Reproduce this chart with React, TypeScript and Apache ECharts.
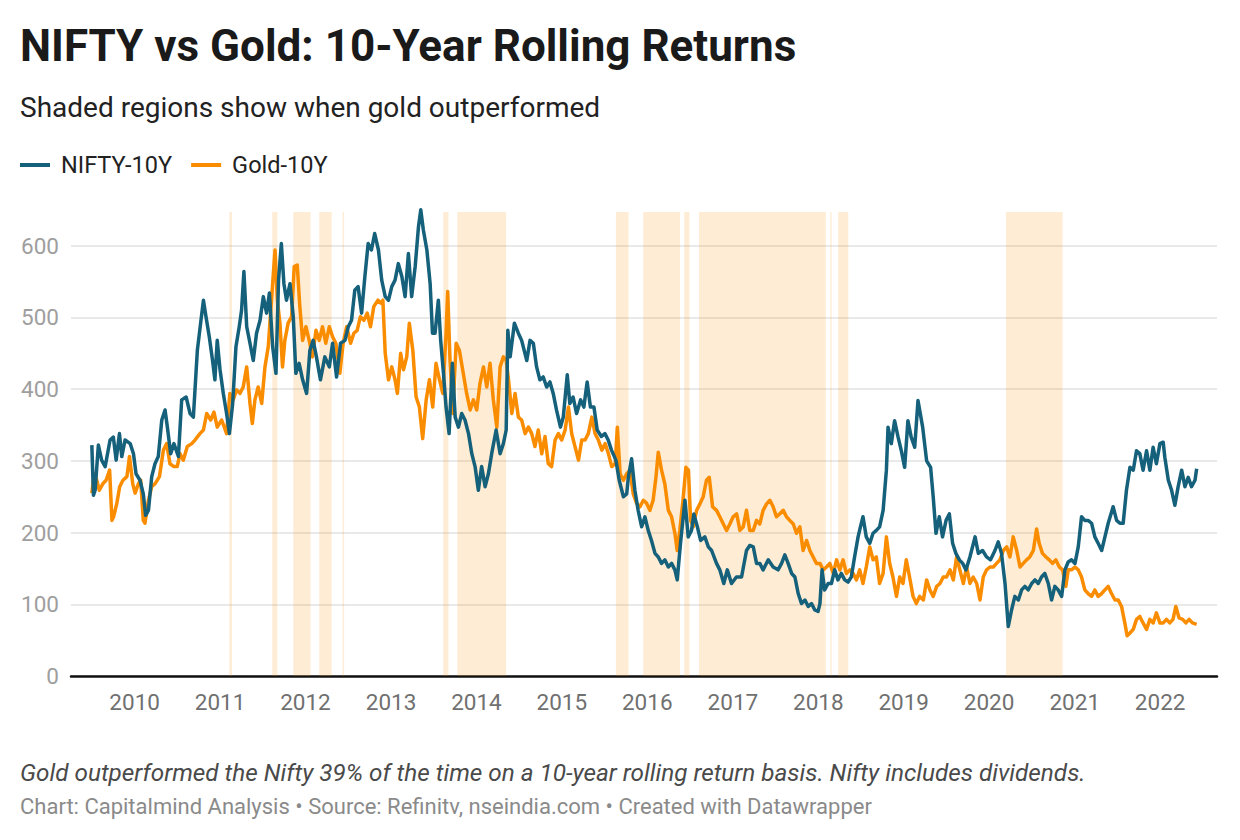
import React, { useEffect, useRef } from "react";
import * as echarts from "echarts";

// ---- Data ----
const niftyDates = [
  "2009-07-02","2009-07-09","2009-07-16","2009-07-30","2009-08-13","2009-08-28","2009-09-18","2009-10-02","2009-10-14","2009-10-28",
  "2009-11-07","2009-11-21","2009-12-13","2009-12-27","2010-01-07","2010-01-24","2010-02-07","2010-02-17","2010-03-01","2010-03-15",
  "2010-03-29","2010-04-12","2010-04-27","2010-05-11","2010-05-21","2010-06-04","2010-06-18","2010-07-07","2010-07-21","2010-08-09",
  "2010-08-26","2010-09-09","2010-09-26","2010-10-10","2010-10-22","2010-11-02","2010-11-16","2010-11-30","2010-12-10","2010-12-20",
  "2011-01-01","2011-01-15","2011-01-29","2011-02-10","2011-02-24","2011-03-10","2011-03-24","2011-04-03","2011-04-13","2011-04-25",
  "2011-05-09","2011-05-23","2011-06-06","2011-06-21","2011-07-05","2011-07-19","2011-07-31","2011-08-14","2011-08-28","2011-09-08",
  "2011-09-20","2011-10-01","2011-10-12","2011-10-27","2011-11-10","2011-11-21","2011-12-05","2011-12-20","2012-01-06","2012-01-20",
  "2012-02-03","2012-02-17","2012-03-05","2012-03-24","2012-04-12","2012-04-26","2012-05-13","2012-05-30","2012-06-18","2012-07-02",
  "2012-07-16","2012-07-30","2012-08-13","2012-08-28","2012-09-11","2012-09-25","2012-10-09","2012-10-23","2012-11-08","2012-11-22",
  "2012-12-07","2012-12-21","2013-01-04","2013-01-18","2013-02-01","2013-02-16","2013-03-02","2013-03-16","2013-03-30","2013-04-14",
  "2013-04-28","2013-05-08","2013-05-19","2013-06-03","2013-06-17","2013-06-27","2013-07-08","2013-07-22","2013-08-01","2013-08-13",
  "2013-08-24","2013-09-06","2013-09-20","2013-10-02","2013-10-16","2013-10-30","2013-11-13","2013-11-28","2013-12-12","2013-12-26",
  "2014-01-09","2014-01-23","2014-02-07","2014-02-21","2014-03-07","2014-03-26","2014-04-12","2014-04-26","2014-05-08","2014-05-15",
  "2014-05-25","2014-06-12","2014-06-29","2014-07-13","2014-08-04","2014-08-18","2014-09-01","2014-09-15","2014-09-29","2014-10-13",
  "2014-10-28","2014-11-11","2014-11-25","2014-12-09","2014-12-26","2015-01-07","2015-01-24","2015-02-04","2015-02-18","2015-03-05",
  "2015-03-22","2015-04-05","2015-04-19","2015-05-03","2015-05-18","2015-06-01","2015-06-19","2015-07-04","2015-07-18","2015-08-01",
  "2015-08-20","2015-09-03","2015-09-21","2015-10-05","2015-10-12","2015-10-26","2015-11-09","2015-11-23","2015-12-08","2015-12-22",
  "2016-01-05","2016-01-19","2016-02-03","2016-02-17","2016-03-02","2016-03-16","2016-03-31","2016-04-14","2016-04-28","2016-05-08",
  "2016-05-22","2016-06-10","2016-06-24","2016-07-08","2016-07-18","2016-08-02","2016-08-16","2016-09-03","2016-09-18","2016-10-02",
  "2016-10-23","2016-11-06","2016-11-23","2016-12-08","2016-12-26","2017-01-16","2017-02-07","2017-02-28","2017-03-14","2017-03-29",
  "2017-04-12","2017-04-26","2017-05-10","2017-06-01","2017-06-22","2017-07-13","2017-07-28","2017-08-11","2017-08-25","2017-09-09",
  "2017-09-23","2017-10-07","2017-10-21","2017-11-05","2017-11-19","2017-12-03","2017-12-17","2017-12-31","2018-01-08","2018-01-17",
  "2018-01-28","2018-02-12","2018-02-26","2018-03-12","2018-03-26","2018-04-09","2018-04-24","2018-05-08","2018-05-22","2018-06-05",
  "2018-06-20","2018-06-30","2018-07-11","2018-07-25","2018-08-09","2018-08-23","2018-09-06","2018-09-20","2018-10-05","2018-10-19",
  "2018-10-26","2018-11-09","2018-11-23","2018-12-08","2018-12-22","2019-01-05","2019-01-19","2019-02-02","2019-02-17","2019-03-03",
  "2019-03-23","2019-04-09","2019-04-26","2019-05-07","2019-05-19","2019-06-02","2019-06-16","2019-07-01","2019-07-15","2019-07-29",
  "2019-08-12","2019-08-27","2019-09-10","2019-09-24","2019-10-11","2019-11-02","2019-11-16","2019-12-04","2019-12-21","2020-01-07",
  "2020-01-26","2020-02-09","2020-02-23","2020-03-09","2020-03-23","2020-04-06","2020-04-20","2020-05-05","2020-05-19","2020-06-02",
  "2020-06-16","2020-07-01","2020-07-15","2020-07-29","2020-08-12","2020-08-26","2020-09-10","2020-09-24","2020-10-08","2020-10-22",
  "2020-11-06","2020-11-20","2020-12-04","2020-12-18","2021-01-02","2021-01-16","2021-01-30","2021-02-13","2021-02-27","2021-03-14",
  "2021-03-28","2021-04-11","2021-04-26","2021-05-10","2021-05-24","2021-06-14","2021-06-29","2021-07-13","2021-07-27","2021-08-10",
  "2021-08-25","2021-09-08","2021-09-22","2021-10-06","2021-10-20","2021-11-04","2021-11-18","2021-12-02","2021-12-16","2021-12-31",
  "2022-01-14","2022-01-21","2022-02-05","2022-02-19","2022-03-05","2022-03-19","2022-04-03","2022-04-17","2022-05-01","2022-05-15",
  "2022-05-30","2022-06-06"
];
const niftyValues = [
  322,252,259,322,301,292,329,333,301,338,
  306,329,324,310,282,273,254,224,231,278,
  296,306,357,371,347,310,324,306,385,389,
  366,361,454,492,524,501,473,440,413,468,
  427,394,366,338,380,459,487,510,564,487,
  464,440,478,496,529,506,534,459,422,552,
  603,547,524,547,501,422,436,413,394,454,
  468,445,413,445,431,464,417,464,468,487,
  496,538,543,506,557,603,594,617,594,552,
  529,524,543,552,575,557,529,589,529,571,
  626,650,622,594,547,478,478,524,468,422,
  375,338,436,361,347,366,357,338,310,292,
  259,292,264,282,310,343,310,324,343,482,
  445,492,478,468,440,468,464,431,413,417,
  403,410,394,371,347,361,420,380,389,366,
  385,375,410,375,375,343,334,338,329,315,
  301,273,250,254,277,303,259,231,208,222,
  203,189,171,166,157,162,152,157,148,134,
  185,245,194,203,226,208,189,194,180,175,
  157,148,129,148,129,138,138,175,182,180,
  157,157,148,162,152,148,157,169,157,143,
  138,115,101,106,97,101,92,90,101,148,
  120,129,129,148,134,143,134,131,138,166,
  194,208,222,194,185,199,203,208,231,287,
  347,324,356,333,314,291,356,333,319,384,
  347,300,291,250,199,222,194,217,226,185,
  171,162,157,148,166,194,171,175,166,162,
  175,187,171,129,69,92,111,106,120,125,
  120,129,134,129,138,143,129,106,125,120,
  111,148,159,162,157,180,222,217,217,213,
  194,185,175,194,213,236,217,213,213,259,
  291,287,314,310,287,314,287,319,296,324,
  326,305,273,259,238,264,287,264,277,264,
  273,289
];

const goldDates = [
  "2009-07-02","2009-07-12","2009-07-23","2009-08-03","2009-08-18","2009-09-01","2009-09-16","2009-09-26","2009-10-03","2009-10-17",
  "2009-10-29","2009-11-12","2009-11-29","2009-12-10","2009-12-24","2010-01-03","2010-01-17","2010-01-27","2010-02-07","2010-02-14",
  "2010-03-01","2010-03-15","2010-03-29","2010-04-17","2010-05-04","2010-05-18","2010-06-01","2010-06-18","2010-07-02","2010-07-14",
  "2010-07-28","2010-08-14","2010-09-02","2010-09-16","2010-10-07","2010-10-22","2010-11-05","2010-11-22","2010-12-06","2010-12-20",
  "2011-01-08","2011-01-29","2011-02-12","2011-02-26","2011-03-13","2011-03-27","2011-04-10","2011-04-25","2011-05-09","2011-05-19",
  "2011-05-30","2011-06-13","2011-06-28","2011-07-12","2011-07-26","2011-08-10","2011-08-24","2011-09-03","2011-09-14","2011-09-25",
  "2011-10-05","2011-10-19","2011-11-03","2011-11-14","2011-11-27","2011-12-08","2011-12-20","2012-01-03","2012-01-17","2012-01-31",
  "2012-02-15","2012-02-29","2012-03-14","2012-03-28","2012-04-12","2012-04-26","2012-05-10","2012-05-27","2012-06-10","2012-06-25",
  "2012-07-12","2012-07-26","2012-08-09","2012-08-23","2012-09-07","2012-09-21","2012-10-05","2012-10-19","2012-11-06","2012-11-18",
  "2012-11-27","2012-12-07","2012-12-21","2013-01-04","2013-01-18","2013-01-28","2013-02-11","2013-02-23","2013-03-09","2013-03-20",
  "2013-04-04","2013-04-18","2013-05-02","2013-05-16","2013-05-31","2013-06-14","2013-06-28","2013-07-12","2013-07-27","2013-08-10",
  "2013-08-24","2013-08-31","2013-09-10","2013-09-22","2013-10-06","2013-10-20","2013-11-03","2013-11-20","2013-12-05","2013-12-19",
  "2014-01-02","2014-01-16","2014-01-31","2014-02-14","2014-02-28","2014-03-14","2014-03-29","2014-04-12","2014-04-26","2014-05-08",
  "2014-05-18","2014-06-01","2014-06-15","2014-06-29","2014-07-13","2014-07-28","2014-08-11","2014-08-25","2014-09-08","2014-09-22",
  "2014-10-07","2014-10-21","2014-11-04","2014-11-18","2014-12-03","2014-12-17","2014-12-31","2015-01-15","2015-01-29","2015-02-12",
  "2015-02-26","2015-03-13","2015-03-27","2015-04-10","2015-04-24","2015-05-09","2015-05-23","2015-06-06","2015-06-21","2015-07-05",
  "2015-07-19","2015-08-02","2015-08-17","2015-08-26","2015-09-07","2015-09-21","2015-10-05","2015-10-19","2015-11-02","2015-11-16",
  "2015-12-01","2015-12-15","2015-12-29","2016-01-12","2016-01-26","2016-02-07","2016-02-17","2016-03-02","2016-03-16","2016-03-31",
  "2016-04-14","2016-04-28","2016-05-08","2016-05-19","2016-06-03","2016-06-14","2016-06-25","2016-07-04","2016-07-15","2016-07-30",
  "2016-08-13","2016-08-27","2016-09-10","2016-09-22","2016-10-06","2016-10-23","2016-11-06","2016-11-21","2016-12-05","2016-12-19",
  "2017-01-02","2017-01-17","2017-01-31","2017-02-14","2017-02-28","2017-03-14","2017-03-29","2017-04-12","2017-04-26","2017-05-10",
  "2017-05-25","2017-06-08","2017-06-22","2017-07-06","2017-07-20","2017-08-04","2017-08-18","2017-09-01","2017-09-16","2017-09-30",
  "2017-10-14","2017-10-28","2017-11-12","2017-11-26","2017-12-10","2017-12-24","2018-01-08","2018-01-22","2018-02-05","2018-02-19",
  "2018-03-06","2018-03-20","2018-04-03","2018-04-17","2018-05-01","2018-05-16","2018-05-30","2018-06-13","2018-06-27","2018-07-11",
  "2018-07-25","2018-08-09","2018-08-23","2018-09-06","2018-09-20","2018-10-05","2018-10-19","2018-11-02","2018-11-16","2018-12-01",
  "2018-12-15","2018-12-29","2019-01-12","2019-01-26","2019-02-10","2019-02-24","2019-03-10","2019-03-26","2019-04-09","2019-04-23",
  "2019-05-07","2019-05-22","2019-06-05","2019-06-19","2019-07-03","2019-07-18","2019-08-01","2019-08-15","2019-08-29","2019-09-13",
  "2019-09-27","2019-10-11","2019-10-25","2019-11-09","2019-11-23","2019-12-07","2019-12-21","2020-01-05","2020-01-19","2020-02-02",
  "2020-02-16","2020-03-02","2020-03-16","2020-03-30","2020-04-13","2020-04-28","2020-05-12","2020-05-26","2020-06-09","2020-06-23",
  "2020-07-08","2020-07-22","2020-08-02","2020-08-16","2020-08-31","2020-09-14","2020-09-28","2020-10-12","2020-10-27","2020-11-10",
  "2020-11-24","2020-12-04","2020-12-18","2021-01-02","2021-01-16","2021-01-30","2021-02-13","2021-02-27","2021-03-14","2021-03-28",
  "2021-04-11","2021-04-26","2021-05-10","2021-05-24","2021-06-07","2021-06-22","2021-07-06","2021-07-20","2021-08-03","2021-08-13",
  "2021-08-25","2021-09-08","2021-09-22","2021-10-06","2021-10-20","2021-11-04","2021-11-18","2021-12-02","2021-12-16","2021-12-31",
  "2022-01-14","2022-01-28","2022-02-11","2022-02-25","2022-03-09","2022-03-23","2022-04-07","2022-04-21","2022-05-05","2022-05-19",
  "2022-06-06"
];
const goldValues = [
  255,282,273,259,268,273,287,217,222,241,
  264,273,278,306,268,255,268,273,217,213,
  245,264,268,278,315,324,296,292,292,310,
  301,320,324,329,338,343,366,357,368,347,
  357,338,394,385,399,394,403,431,380,352,
  385,403,380,431,459,529,594,524,492,431,
  468,492,501,571,573,515,468,487,468,445,
  482,468,487,464,487,473,464,422,464,487,
  464,478,482,501,496,506,487,515,524,520,
  524,450,413,431,413,394,450,427,445,492,
  454,389,375,331,385,413,375,436,413,394,
  478,536,440,366,464,454,427,394,371,385,
  371,408,431,403,436,385,347,431,445,440,
  413,366,394,361,357,338,347,338,320,343,
  310,334,296,292,329,338,329,343,375,338,
  320,301,329,329,338,361,338,329,315,324,
  310,292,296,347,282,273,282,287,254,241,
  236,245,241,231,245,277,312,287,268,231,
  222,199,175,203,250,291,287,217,208,231,
  240,250,273,277,236,231,222,212,203,212,
  222,226,203,208,231,203,203,217,212,231,
  240,245,236,222,226,231,222,217,212,199,
  208,175,189,175,166,157,157,148,152,157,
  143,162,148,162,143,148,143,134,148,129,
  152,180,162,166,129,143,194,157,138,111,
  138,129,162,138,111,101,111,106,134,120,
  111,125,129,138,138,148,134,166,148,129,
  152,129,138,129,106,138,148,152,152,157,
  162,175,180,166,194,175,152,157,162,166,
  175,205,185,171,166,162,157,162,152,148,
  125,148,148,152,148,138,120,115,111,120,
  111,115,120,125,115,106,106,97,74,56,
  60,65,79,83,74,65,79,74,88,74,
  74,79,74,79,97,81,79,74,79,74,
  72
];

// Periods when gold outperformed (shaded)
const bandStarts = [
  "2011-02-10","2011-08-12","2011-11-10","2012-02-29","2012-06-08","2013-08-12","2013-10-11",
  "2015-08-20","2015-12-15","2016-06-07","2016-08-09","2018-02-21","2018-03-27","2020-03-13"
];
const bandEnds = [
  "2011-02-21","2011-09-03","2012-01-23","2012-04-22","2012-06-14","2013-09-03","2014-05-08",
  "2015-10-13","2016-05-20","2016-06-29","2018-02-02","2018-02-27","2018-05-09","2020-11-10"
];

const xMinDate = "2009-04-04";
const xMaxDate = "2022-09-01";
const yTickValues = [0, 100, 200, 300, 400, 500, 600];

const TITLE = "NIFTY vs Gold: 10-Year Rolling Returns";
const SUBTITLE = "Shaded regions show when gold outperformed";
const NOTE = "Gold outperformed the Nifty 39% of the time on a 10-year rolling return basis. Nifty includes dividends.";
const SOURCE = "Chart: Capitalmind Analysis \u2022 Source: Refinitv, nseindia.com \u2022 Created with Datawrapper";

const ts = (s: string) => new Date(s + "T00:00:00").getTime();

export default function App() {
  const ref = useRef<HTMLDivElement>(null);

  useEffect(() => {
    if (!ref.current) return;
    const chart = echarts.init(ref.current, null, { renderer: "svg" });
    const font = "Roboto";
    const niftyData = niftyDates.map((d, i) => [ts(d), niftyValues[i]]);
    const goldData = goldDates.map((d, i) => [ts(d), goldValues[i]]);
    const bands = bandStarts.map((s, i) => [{ xAxis: ts(s) }, { xAxis: ts(bandEnds[i]) }]);

    chart.setOption({
      animation: false,
      backgroundColor: "#ffffff",
      textStyle: { fontFamily: font },
      grid: { left: 71, right: 23, top: 212, bottom: 164, containLabel: false },
      graphic: [
        { type: "text", x: 20, y: 46, style: { text: TITLE, font: `bold 44px ${font}`, fill: "#1a1a1a", verticalAlign: "middle" } },
        { type: "text", x: 20, y: 107, style: { text: SUBTITLE, font: `28px ${font}`, fill: "#222", verticalAlign: "middle" } },
        { type: "text", x: 20, y: 772, style: { text: NOTE, font: `italic 24.3px ${font}`, fill: "#4a4a4a", verticalAlign: "middle" } },
        { type: "text", x: 20, y: 806, style: { text: SOURCE, font: `22px ${font}`, fill: "#8a8a8a", verticalAlign: "middle" } },
      ],
      legend: {
        left: 20,
        top: 153,
        padding: 0,
        icon: "rect",
        itemWidth: 30,
        itemHeight: 4,
        itemGap: 19,
        data: ["NIFTY-10Y", "Gold-10Y"],
        textStyle: { fontSize: 23.5, color: "#222", fontFamily: font, padding: [0, 0, 0, 6] },
      },
      xAxis: {
        type: "time",
        min: ts(xMinDate),
        max: ts(xMaxDate),
        splitNumber: 14,
        minInterval: 365 * 24 * 3600 * 1000,
        axisLine: { show: true, lineStyle: { color: "#111", width: 2.5 } },
        axisTick: { show: false },
        splitLine: { show: false },
        axisLabel: {
          color: "#707070",
          fontSize: 22.5,
          fontFamily: font,
          margin: 14,
          showMinLabel: false,
          showMaxLabel: false,
          formatter: (val: number) => {
            const d = new Date(val);
            return d.getMonth() === 0 && d.getDate() === 1 ? String(d.getFullYear()) : "";
          },
        },
      },
      yAxis: {
        type: "value",
        min: yTickValues[0],
        max: 647,
        interval: 100,
        axisLine: { show: false },
        axisTick: { show: false },
        axisLabel: {
          color: "#9e9e9e",
          fontSize: 22.5,
          fontFamily: font,
          margin: 12,
          showMaxLabel: false,
          formatter: (v: number) => (yTickValues.indexOf(v) >= 0 ? String(v) : ""),
        },
        splitLine: { show: true, showMaxLine: false, lineStyle: { color: "#e2e2e2", width: 1.5 } },
      },
      series: [
        {
          name: "NIFTY-10Y",
          type: "line",
          data: niftyData,
          showSymbol: false,
          symbol: "none",
          clip: false,
          z: 3,
          color: "#15607a",
          lineStyle: { color: "#15607a", width: 3.5, join: "round" },
        },
        {
          name: "Gold-10Y",
          type: "line",
          data: goldData,
          showSymbol: false,
          symbol: "none",
          clip: false,
          z: 2,
          color: "#fa8c00",
          lineStyle: { color: "#fa8c00", width: 3.5, join: "round" },
          markArea: {
            silent: true,
            z: 1,
            itemStyle: { color: "rgba(250,140,0,0.17)", borderWidth: 0 },
            label: { show: false },
            data: bands,
          },
        },
      ],
    });
    return () => chart.dispose();
  }, []);

  return <div ref={ref} style={{ position: "absolute", left: 0, top: 0, width: 1240, height: 840 }} />;
}
